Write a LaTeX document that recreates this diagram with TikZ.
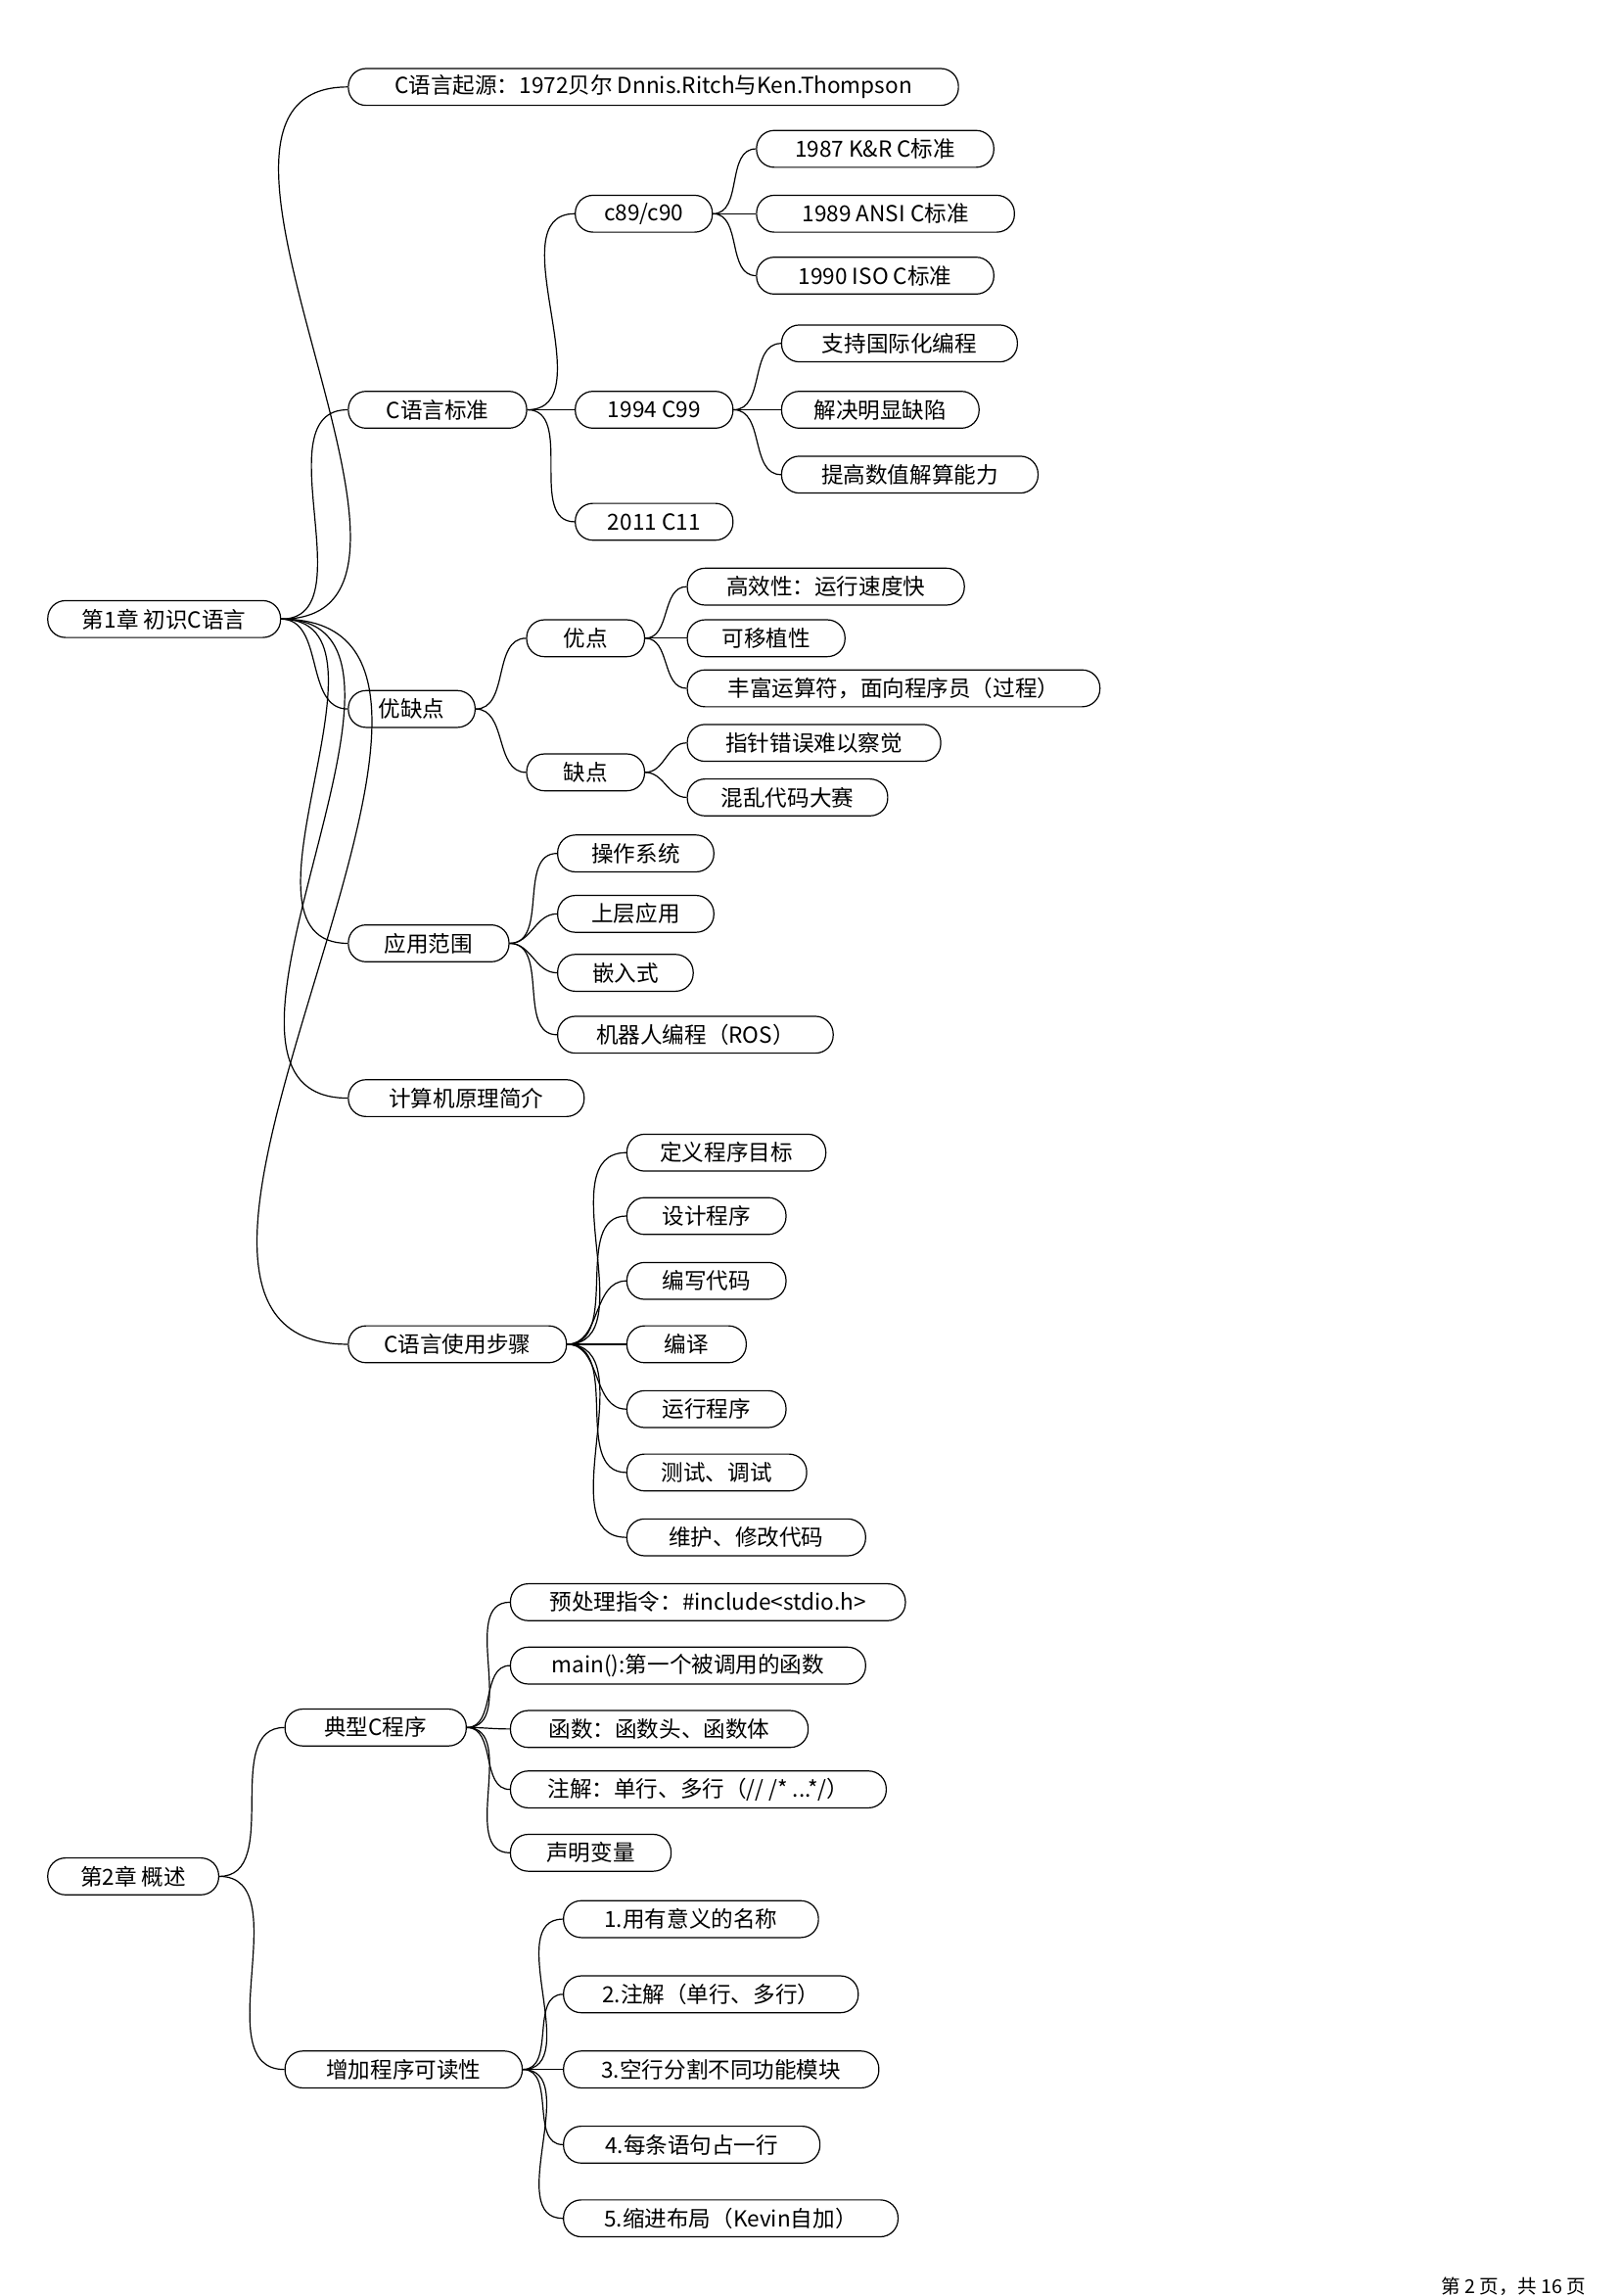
\documentclass[tikz,border=0pt]{standalone}
\usepackage{fontspec}
\setmainfont{Noto Sans CJK SC}
\newfontfamily\footfont{Noto Sans CJK SC}
\begin{document}
\begin{tikzpicture}[x=1pt,y=-1pt,
  box/.style={draw,thick,rounded corners=12pt,minimum height=25pt,anchor=west,inner sep=2pt,font=\fontsize{15}{17}\selectfont},
  link/.style={thick,out=0,in=180}]
\useasboundingbox (0,0) rectangle (1100,1557.7);
\newcommand\nd[5]{\node[box,minimum width=#3-#2] (#1) at (#2,#4) {#5};}
\newcommand\cn[2]{\draw[link] (#1.east) to (#2.west);}
\nd{r1}{32}{190}{420}{第1章 初识C语言}
\nd{a}{236}{650}{59}{C语言起源：1972贝尔 Dnnis.Ritch与Ken.Thompson}
\nd{b}{236}{357}{278}{C语言标准}
\nd{c}{236}{322}{481}{优缺点}
\nd{d}{236}{345}{640}{应用范围}
\nd{e}{236}{396}{745}{计算机原理简介}
\nd{f}{236}{384}{912}{C语言使用步骤}
\foreach \n in {a,b,c,d,e,f}{\cn{r1}{\n}}
\nd{b1}{390}{483}{145}{c89/c90}
\nd{b2}{390}{497}{278}{1994 C99}
\nd{b3}{390}{497}{354}{2011 C11}
\foreach \n in {b1,b2,b3}{\cn{b}{\n}}
\nd{b11}{513}{674}{101}{1987 K\&R C标准}
\nd{b12}{513}{688}{145}{1989 ANSI C标准}
\nd{b13}{513}{674}{187}{1990 ISO C标准}
\foreach \n in {b11,b12,b13}{\cn{b1}{\n}}
\nd{b21}{530}{690}{233}{支持国际化编程}
\nd{b22}{530}{664}{278}{解决明显缺陷}
\nd{b23}{530}{704}{322}{提高数值解算能力}
\foreach \n in {b21,b22,b23}{\cn{b2}{\n}}
\nd{c1}{357}{437}{433}{优点}
\nd{c2}{357}{437}{524}{缺点}
\cn{c}{c1}\cn{c}{c2}
\nd{c11}{466}{654}{398}{高效性：运行速度快}
\nd{c12}{466}{573}{433}{可移植性}
\nd{c13}{466}{746}{467}{丰富运算符，面向程序员（过程）}
\foreach \n in {c11,c12,c13}{\cn{c1}{\n}}
\nd{c21}{466}{638}{504}{指针错误难以察觉}
\nd{c22}{466}{602}{541}{混乱代码大赛}
\cn{c2}{c21}\cn{c2}{c22}
\nd{d1}{378}{484}{579}{操作系统}
\nd{d2}{378}{484}{620}{上层应用}
\nd{d3}{378}{470}{660}{嵌入式}
\nd{d4}{378}{565}{702}{机器人编程（ROS）}
\foreach \n in {d1,d2,d3,d4}{\cn{d}{\n}}
\nd{f1}{425}{560}{782}{定义程序目标}
\nd{f2}{425}{533}{825}{设计程序}
\nd{f3}{425}{533}{869}{编写代码}
\nd{f4}{425}{506}{912}{编译}
\nd{f5}{425}{533}{956}{运行程序}
\nd{f6}{425}{547}{999}{测试、调试}
\nd{f7}{425}{587}{1043}{维护、修改代码}
\foreach \n in {f1,f2,f3,f4,f5,f6,f7}{\cn{f}{\n}}
\nd{r2}{32}{148}{1273}{第2章 概述}
\nd{g}{193}{316}{1172}{典型C程序}
\nd{h}{193}{354}{1404}{增加程序可读性}
\cn{r2}{g}\cn{r2}{h}
\nd{g1}{346}{614}{1087}{预处理指令：\#include<stdio.h>}
\nd{g2}{346}{587}{1130}{main():第一个被调用的函数}
\nd{g3}{346}{548}{1173}{函数：函数头、函数体}
\nd{g4}{346}{601}{1214}{注解：单行、多行（// /* ...*/）}
\nd{g5}{346}{455}{1257}{声明变量}
\foreach \n in {g1,g2,g3,g4,g5}{\cn{g}{\n}}
\nd{h1}{382}{555}{1302}{1.用有意义的名称}
\nd{h2}{382}{582}{1353}{2.注解（单行、多行）}
\nd{h3}{382}{596}{1404}{3.空行分割不同功能模块}
\nd{h4}{382}{556}{1455}{4.每条语句占一行}
\nd{h5}{382}{609}{1505}{5.缩进布局（Kevin自加）}
\foreach \n in {h1,h2,h3,h4,h5}{\cn{h}{\n}}
\node[anchor=east,font=\fontsize{13}{15}\selectfont] (ft) at (1080,1551) {第 2 页，共 16 页};
\end{tikzpicture}
\end{document}
